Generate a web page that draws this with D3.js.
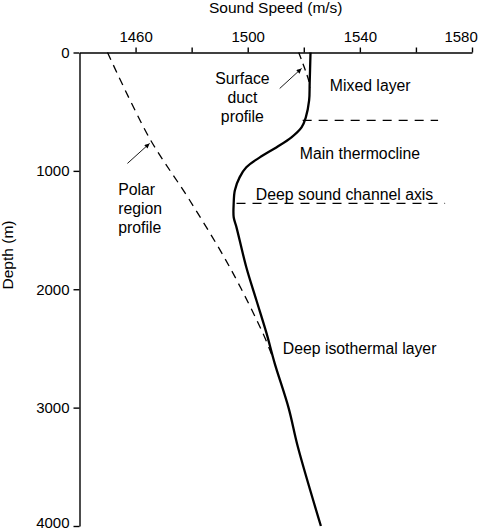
<!DOCTYPE html>
<html>
<head>
<meta charset="utf-8">
<script src="https://cdn.jsdelivr.net/npm/d3@7"></script>
<style>
  body { margin: 0; background: #fff; }
  text { font-family: "Liberation Sans", Arial, Helvetica, sans-serif; fill: #000; }
</style>
</head>
<body>
<div id="chart"></div>
<script>
// Main sound speed profile (depth in m, speed in m/s)
var profileDepth = [0, 260, 405, 550, 633, 717, 802, 886, 970, 1055, 1165, 1274, 1392, 1477, 1814, 2093, 2371, 2624, 3004, 3333, 4000];
var profileSpeed = [1522.4, 1522.1, 1521.9, 1520.7, 1519.2, 1515.6, 1510.2, 1504.3, 1499.5, 1497.1, 1495.4, 1495.0, 1495.0, 1496.0, 1499.5, 1503.1, 1506.7, 1509.6, 1514.6, 1517.9, 1526.1];

// Polar region profile
var polarDepth = [0, 725, 1248, 1814, 2371, 2574];
var polarSpeed = [1450.0, 1465.0, 1479.3, 1493.6, 1505.4, 1508.9];

// Surface duct profile
var ductDepth = [0, 250, 300];
var ductSpeed = [1518.2, 1521.9, 1522.1];

// Layer boundaries: depth, start speed, end speed
var layerDepth = [574, 1274];
var layerStart = [1519.6, 1496.0];
var layerEnd = [1567.9, 1570.4];

// Axis ticks
var speedTicks = [1460, 1480, 1500, 1520, 1540, 1560, 1580];
var speedLabels = [1460, 1500, 1540, 1580];
var depthTicks = [0, 1000, 2000, 3000, 4000];

function init() {
    var w = 487, h = 532;

    var x = d3.scaleLinear().domain([1440, 1580]).range([79.5, 472]);
    var y = d3.scaleLinear().domain([0, 4000]).range([52.5, 526]);

    var svg = d3.select("#chart")
        .append("svg")
        .attr("width", w)
        .attr("height", h);

    // arrow head
    svg.append("defs").append("marker")
        .attr("id", "arrow")
        .attr("viewBox", "0 0 10 10")
        .attr("refX", 10)
        .attr("refY", 5)
        .attr("markerWidth", 7)
        .attr("markerHeight", 5)
        .attr("markerUnits", "userSpaceOnUse")
        .attr("orient", "auto")
        .append("path")
        .attr("d", "M0,0L10,5L0,10Z")
        .attr("fill", "#000");

    // top axis
    var xAxis = d3.axisTop(x)
        .tickValues(speedTicks)
        .tickSize(5)
        .tickSizeOuter(0)
        .tickPadding(6)
        .tickFormat(function(d) { return speedLabels.indexOf(d) >= 0 ? d : ""; });

    var gx = svg.append("g")
        .attr("transform", "translate(0," + y(0) + ")")
        .call(xAxis);

    // left axis
    var yAxis = d3.axisLeft(y)
        .tickValues(depthTicks)
        .tickSize(6)
        .tickSizeOuter(0)
        .tickPadding(4)
        .tickFormat(d3.format("d"));

    var gy = svg.append("g")
        .attr("transform", "translate(" + x(1440) + ",0)")
        .call(yAxis);

    [gx, gy].forEach(function(g) {
        g.selectAll("path, line").attr("stroke", "#000").attr("stroke-width", 1.4);
        g.selectAll("text").style("font-size", "15px")
            .style("font-family", '"Liberation Sans", Arial, sans-serif');
    });

    // keep the end labels inside the page, as in the original
    gx.selectAll(".tick text")
        .filter(function(d) { return d === 1580; })
        .attr("text-anchor", "end")
        .attr("dx", "0.35em");
    gy.selectAll(".tick text")
        .filter(function(d) { return d === 4000; })
        .attr("dy", "0.1em");

    // axis titles
    svg.append("text")
        .attr("x", (x(1440) + x(1580)) / 2)
        .attr("y", 13)
        .attr("text-anchor", "middle")
        .style("font-size", "15.5px")
        .text("Sound Speed (m/s)");

    svg.append("text")
        .attr("transform", "translate(13,255) rotate(-90)")
        .attr("text-anchor", "middle")
        .style("font-size", "15.5px")
        .text("Depth (m)");

    var line = d3.line()
        .x(function(d) { return x(d[1]); })
        .y(function(d) { return y(d[0]); });

    // layer boundary dashes
    svg.selectAll(".layer")
        .data(layerDepth)
        .enter()
        .append("line")
        .attr("class", "layer")
        .attr("x1", function(d, i) { return x(layerStart[i]); })
        .attr("x2", function(d, i) { return x(layerEnd[i]); })
        .attr("y1", function(d) { return y(d); })
        .attr("y2", function(d) { return y(d); })
        .attr("stroke", "#000")
        .attr("stroke-width", 1.3)
        .attr("stroke-dasharray", "9,7");

    // polar profile
    svg.append("path")
        .datum(d3.zip(polarDepth, polarSpeed))
        .attr("d", line.curve(d3.curveCatmullRom))
        .attr("fill", "none")
        .attr("stroke", "#000")
        .attr("stroke-width", 1.3)
        .attr("stroke-dasharray", "8,6");

    // surface duct
    svg.append("path")
        .datum(d3.zip(ductDepth, ductSpeed))
        .attr("d", line.curve(d3.curveCatmullRom))
        .attr("fill", "none")
        .attr("stroke", "#000")
        .attr("stroke-width", 1.3)
        .attr("stroke-dasharray", "7,5");

    // main profile
    svg.append("path")
        .datum(d3.zip(profileDepth, profileSpeed))
        .attr("d", line.curve(d3.curveCatmullRom))
        .attr("fill", "none")
        .attr("stroke", "#000")
        .attr("stroke-width", 2.3);

    // arrows (speed, depth)
    var arrows = [
        [[1511.4, 304], [1519.2, 135]],
        [[1457.1, 937], [1465.0, 768]]
    ];
    svg.selectAll(".arrow")
        .data(arrows)
        .enter()
        .append("line")
        .attr("x1", function(d) { return x(d[0][0]); })
        .attr("y1", function(d) { return y(d[0][1]); })
        .attr("x2", function(d) { return x(d[1][0]); })
        .attr("y2", function(d) { return y(d[1][1]); })
        .attr("stroke", "#000")
        .attr("stroke-width", 0.9)
        .attr("marker-end", "url(#arrow)");

    // labels: text lines, speed, depth, anchor
    var labels = [
        { lines: ["Mixed layer"], s: 1529.3, d: 325, a: "start" },
        { lines: ["Main thermocline"], s: 1518.6, d: 898, a: "start" },
        { lines: ["Deep sound channel axis"], s: 1502.9, d: 1250, a: "start" },
        { lines: ["Surface", "duct", "profile"], s: 1498.1, d: 264, a: "middle" },
        { lines: ["Polar", "region", "profile"], s: 1453.8, d: 1202, a: "start" },
        { lines: ["Deep isothermal layer"], s: 1512.5, d: 2545, a: "start" }
    ];

    labels.forEach(function(l) {
        var t = svg.append("text")
            .attr("x", x(l.s))
            .attr("y", y(l.d))
            .attr("text-anchor", l.a)
            .style("font-size", "15.8px");
        l.lines.forEach(function(s, i) {
            t.append("tspan")
                .attr("x", x(l.s))
                .attr("dy", i === 0 ? 0 : 19)
                .text(s);
        });
    });
}

window.onload = init;
</script>
</body>
</html>
